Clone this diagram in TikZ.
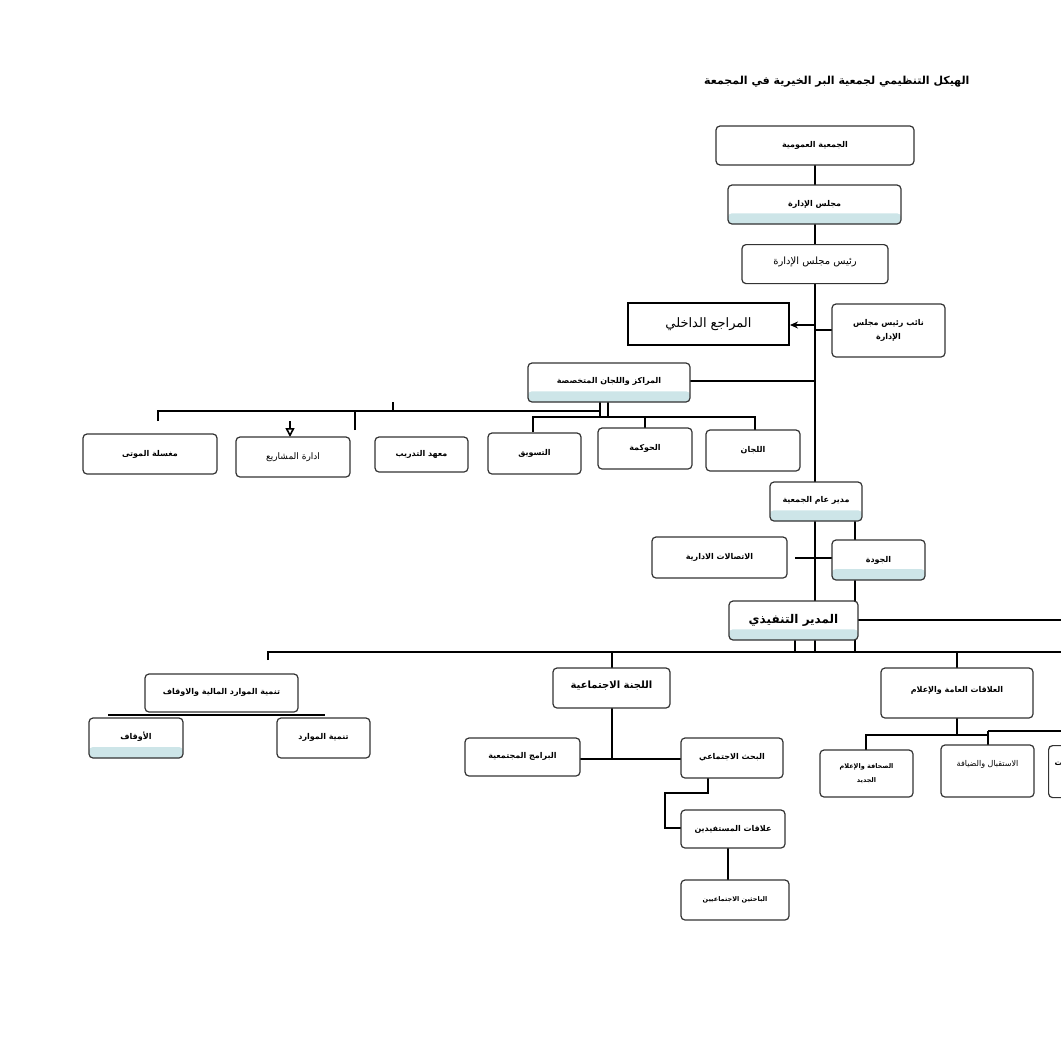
\documentclass[tikz,border=0pt]{standalone}
\usepackage{fontspec}
\usetikzlibrary{calc,arrows.meta}
\newfontfamily\arabicfont[Script=Arabic]{DejaVu Sans}
\TeXXeTstate=1
\newcommand{\ar}[1]{{\arabicfont\bfseries\beginR #1\endR}}
\definecolor{bandc}{HTML}{CDE5E8}
\definecolor{edgec}{HTML}{333333}
\tikzset{
 bx/.style={draw=edgec,line width=1.2pt,rounded corners=4pt,fill=white,inner sep=1pt,align=center,font=\fontsize{8}{14}\selectfont},
 band/.style={path picture={\fill[bandc] (path picture bounding box.south west) rectangle ($(path picture bounding box.east)!0.45!(path picture bounding box.south east)$);}},
 ln/.style={line width=2.6pt,black},
 thin/.style={line width=1.6pt,black}
}
\newcommand{\bx}[7]{\node[bx,#6,minimum width=#4-#2,minimum height=#5-#3] (#1) at ({(#2+#4)/2},{(#3+#5)/2}) {#7};}
\begin{document}
\begin{tikzpicture}[x=1pt,y=-1pt]
\useasboundingbox (0,0) rectangle (1061,1061);
\fill[white] (0,0) rectangle (1061,1061);
\begin{scope}
\clip (0,0) rectangle (1061,1061);
\node[anchor=east,font=\fontsize{11}{13}\selectfont] (title) at (973,82) {\ar{الهيكل التنظيمي لجمعية البر الخيرية في المجمعة}};
% connectors first
\coordinate (tk) at (815,283);
\draw[ln] (815,165)--(815,185);
\draw[ln] (815,224)--(815,244);
\draw[ln] (815,283)--(815,482);
\draw[ln] (815,330)--(832,330);
\draw[thin,-{Stealth[length=8pt,width=7pt]}] (815,325)--(790,325);
\draw[ln] (690,381)--(815,381);
\draw[ln] (600,402)--(600,417);
\draw[ln] (608,402)--(608,417);
\draw[ln] (158,421)--(158,411)--(600,411);
\draw[ln] (355,430)--(355,411);
\draw[ln] (393,402)--(393,411);
\draw[ln] (533,432)--(533,417)--(755,417)--(755,430);
\draw[ln] (645,417)--(645,428);
\draw[thin,-{Triangle[open,length=9pt,width=9pt]}] (290,421)--(290,437);
\draw[ln] (815,521)--(815,601);
\draw[thin] (855,521)--(855,601);
\draw[ln] (795,558)--(832,558);
\draw[ln] (858,620)--(1061,620);
\draw[ln] (795,640)--(795,652);
\draw[ln] (815,640)--(815,652);
\draw[thin] (855,640)--(855,652);
\draw[ln] (268,660)--(268,652)--(1061,652);
\draw[thin] (612,652)--(612,668);
\draw[thin] (957,652)--(957,668);
\draw[ln] (108,715)--(325,715);
\draw[thin] (612,708)--(612,759);
\draw[ln] (580,759)--(681,759);
\draw[thin] (708,778)--(708,793)--(665,793)--(665,828)--(681,828);
\draw[ln] (665,793)--(708,793);
\draw[ln] (665,828)--(681,828);
\draw[thin] (728,848)--(728,880);
\draw[thin] (957,718)--(957,735);
\draw[ln] (866,750)--(866,735)--(988,735);
\draw[ln] (988,731)--(1061,731);
\draw[thin] (988,731)--(988,745);
% boxes
\bx{gen}{716}{126}{914}{165}{}{\ar{الجمعية العمومية}}
\bx{board}{728}{185}{901}{224}{band}{\ar{مجلس الإدارة}}
\node[bx,minimum width=146,minimum height=39,font=\fontsize{10}{12}\selectfont,anchor=north] (chair) at (815,244) {\raisebox{6pt}{{\arabicfont\beginR رئيس مجلس الإدارة\endR}}};
\bx{vice}{832}{304}{945}{357}{}{\ar{نائب رئيس مجلس}\\\ar{الإدارة}}
\node[draw,line width=1.2pt,minimum width=161,minimum height=42,font=\fontsize{13}{15}\selectfont] (aud) at (708.5,324) {{\arabicfont\beginR المراجع الداخلي\endR}};
\bx{cent}{528}{363}{690}{402}{band}{\raisebox{4pt}{\ar{المراكز واللجان المتخصصة}}}
\bx{lijan}{706}{430}{800}{471}{}{\ar{اللجان}}
\bx{hawk}{598}{428}{692}{469}{}{\ar{الحوكمة}}
\bx{tasw}{488}{433}{581}{474}{}{\ar{التسويق}}
\bx{train}{375}{437}{468}{472}{}{\ar{معهد التدريب}}
\node[bx,minimum width=114,minimum height=40,font=\fontsize{9}{12}\selectfont] (proj) at (293,457) {{\arabicfont\beginR ادارة المشاريع\endR}};
\bx{ghasl}{83}{434}{217}{474}{}{\ar{مغسلة الموتى}}
\bx{mdir}{770}{482}{862}{521}{band}{\raisebox{4pt}{\ar{مدير عام الجمعية}}}
\bx{qual}{832}{540}{925}{580}{band}{\ar{الجودة}}
\bx{comm}{652}{537}{787}{578}{}{\ar{الاتصالات الادارية}}
\node[bx,band,minimum width=129,minimum height=39,font=\fontsize{12}{14}\selectfont] (exec) at (793.5,620.5) {\ar{المدير التنفيذي}};
\bx{fin}{145}{674}{298}{712}{}{\raisebox{4pt}{\ar{تنمية الموارد المالية والاوقاف}}}
\bx{awq}{89}{718}{183}{758}{band}{\raisebox{4pt}{\ar{الأوقاف}}}
\bx{tanm}{277}{718}{370}{758}{}{\raisebox{4pt}{\ar{تنمية الموارد}}}
\node[bx,minimum width=117,minimum height=40,font=\fontsize{10}{12}\selectfont] (soc) at (611.5,688) {\raisebox{6pt}{\ar{اللجنة الاجتماعية}}};
\bx{bar}{465}{738}{580}{776}{}{\raisebox{4pt}{\ar{البرامج المجتمعية}}}
\bx{bahth}{681}{738}{783}{778}{}{\raisebox{4pt}{\ar{البحث الاجتماعي}}}
\bx{must}{681}{810}{785}{848}{}{\ar{علاقات المستفيدين}}
\node[bx,minimum width=108,minimum height=40,font=\fontsize{6.5}{8}\selectfont] (bahi) at (735,900) {\ar{الباحثين الاجتماعيين}};
\bx{pr}{881}{668}{1033}{718}{}{\raisebox{8pt}{\ar{العلاقات العامة والإعلام}}}
\node[bx,minimum width=93,minimum height=47,font=\fontsize{6.5}{14}\selectfont] (sah) at (866.5,773.5) {\ar{الصحافة والإعلام}\\\ar{الجديد}};
\node[bx,minimum width=93,minimum height=52,font=\fontsize{8}{10}\selectfont] (istq) at (987.5,771) {\raisebox{16pt}{{\arabicfont\beginR الاستقبال والضيافة\endR}}};
\node[bx,minimum width=60,minimum height=52,font=\fontsize{8}{10}\selectfont,anchor=north west] (part) at (1048,745) {\raisebox{16pt}{\hspace*{-40pt}\ar{ت}}};
\end{scope}
\end{tikzpicture}
\end{document}
